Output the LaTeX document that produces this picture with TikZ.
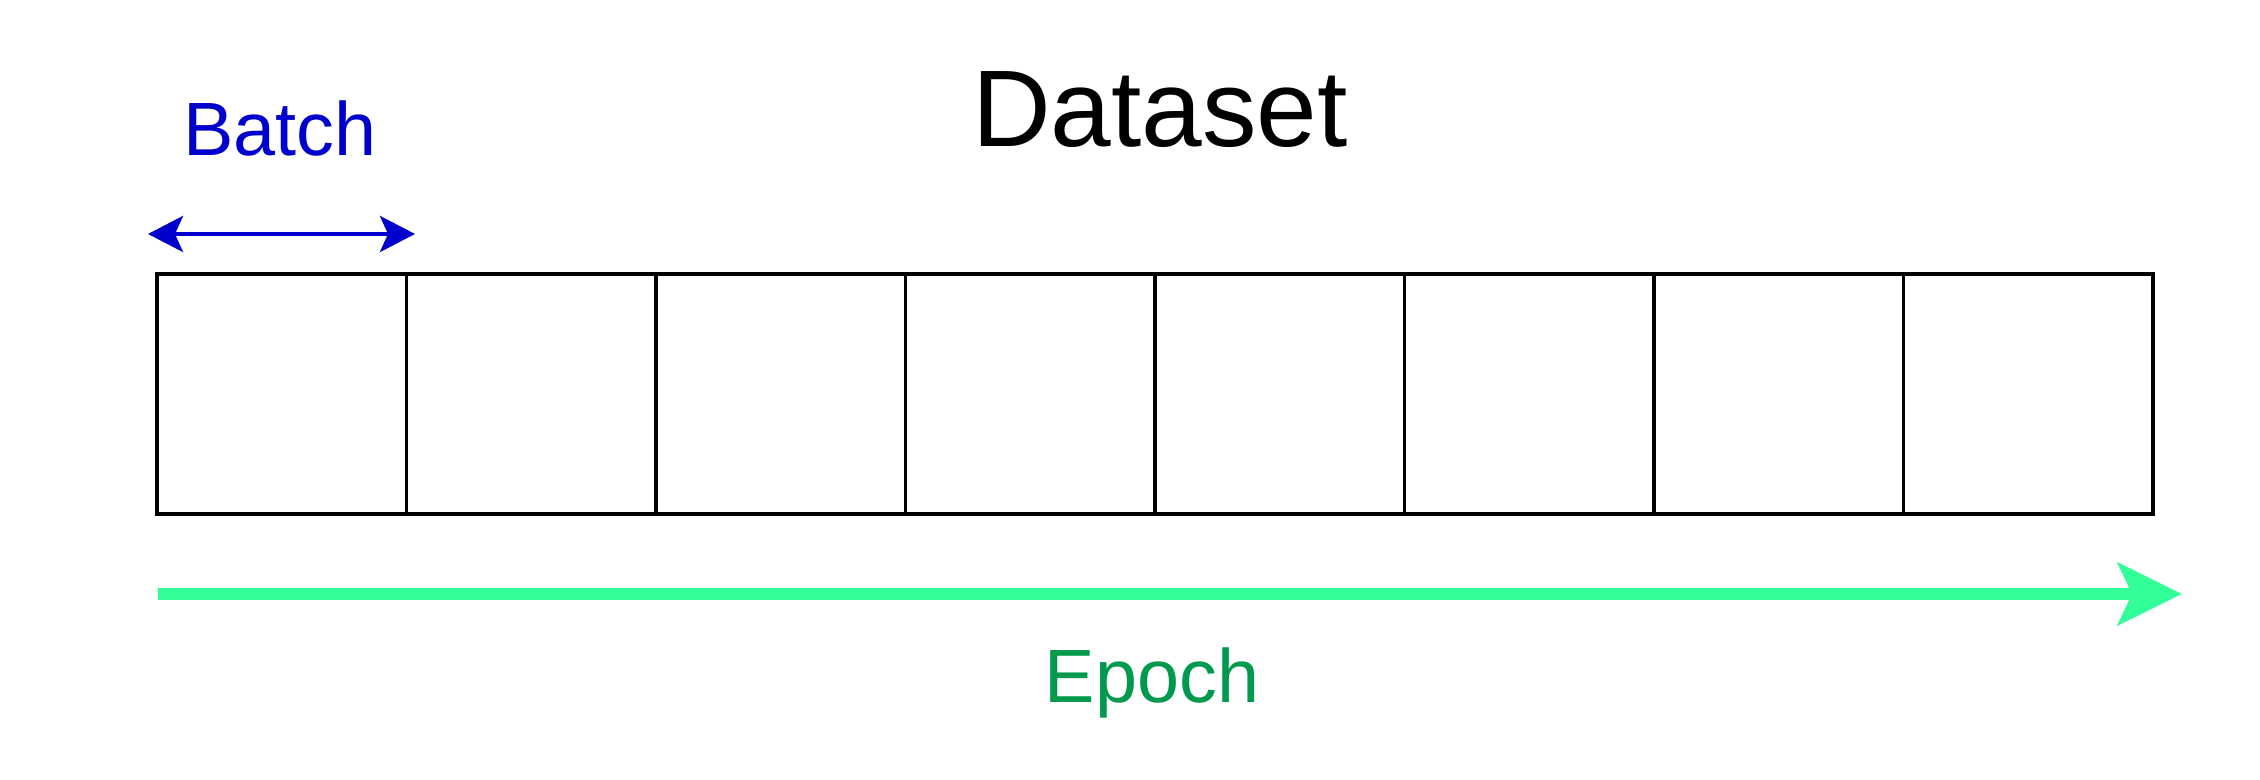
\documentclass[tikz,border=0pt]{standalone}
\usepackage{fontspec}
\setmainfont{Liberation Sans}
\usepackage{tikz}
\usetikzlibrary{arrows.meta, positioning}
\definecolor{batchblue}{RGB}{0,0,204}
\definecolor{epochline}{RGB}{51,255,153}
\definecolor{epochtext}{RGB}{0,153,77}

\begin{document}
\begin{tikzpicture}[
    scale=1,
    cell/.style=
        {draw,line width=0.95pt,inner sep=0pt,outer sep=0pt,
         minimum width=2.495cm,minimum height=2.4cm},
    batcharrow/.style=
        {batchblue,line width=1.15pt,
         {Stealth[length=3.5mm,width=3.6mm,inset=0.8mm]}-{Stealth[length=3.5mm,width=3.6mm,inset=0.8mm]}},
    epocharrow/.style=
        {epochline,line width=3.4pt,
         -{Stealth[length=6.4mm,width=6.2mm,inset=1.4mm]}}]
    \useasboundingbox (0,0) rectangle (22.6,7.8);
    \foreach \i in {1,...,8}
        \node [cell] (c\i) at ({1.57+2.495*(\i-0.5)}, 3.86) {};
    \node [anchor=base, font=\fontsize{31}{37}\selectfont] (dataset) at (11.6, 6.33) {Dataset};
    \coordinate (b1) at ([xshift=-0.09cm, yshift=0.4cm]c1.north west);
    \coordinate (b2) at ([xshift=0.085cm, yshift=0.4cm]c1.north east);
    \draw [batcharrow] (b1) -- (b2);
    \node [anchor=base, batchblue, font=\fontsize{21.5}{26}\selectfont] (batch) at (2.8, 6.24) {Batch};
    \coordinate (e1) at (1.58, 1.86);
    \coordinate (e2) at (21.82, 1.86);
    \draw [epocharrow] (e1) -- (e2);
    \node [anchor=base, epochtext, font=\fontsize{21.5}{26}\selectfont] (epoch) at (11.52, 0.77) {Epoch};
\end{tikzpicture}
\end{document}
